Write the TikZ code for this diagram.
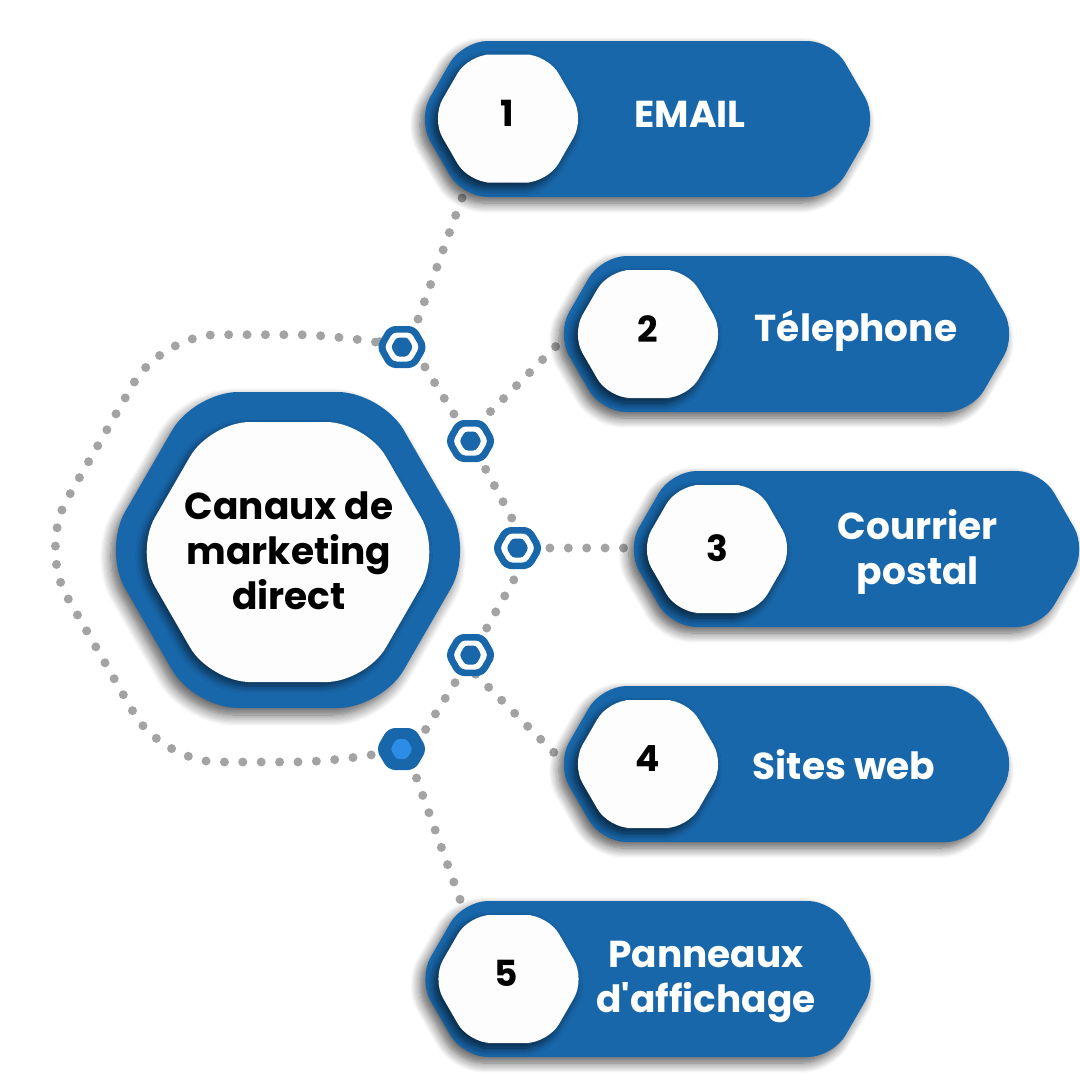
\documentclass[tikz,border=0pt]{standalone}
\usepackage{fontspec}
\setmainfont{Poppins}
\usetikzlibrary{shapes.symbols,backgrounds,shadows.blur}
\definecolor{barblue}{HTML}{1867AB}
\definecolor{dotgrey}{HTML}{A3A3A3}
\definecolor{coreblue}{HTML}{2D8DE6}
\definecolor{hexwhite}{HTML}{FDFDFD}

\begin{document}
\begin{tikzpicture}[x=1pt,y=-1pt,
hex/.style={signal, signal to=west and east, signal pointer angle=120, inner sep=0pt, outer sep=0pt},
main pill/.style={hex, fill=barblue, minimum width=460pt, minimum height=156pt, rounded corners=25pt,
  blur shadow={shadow xshift=-5pt, shadow yshift=-6pt, shadow blur radius=10pt, shadow blur steps=10, shadow opacity=65}},
num hex/.style={hex, fill=hexwhite, minimum width=153pt, minimum height=128pt, rounded corners=22pt,
  blur shadow={shadow xshift=-4pt, shadow yshift=-5pt, shadow blur radius=8pt, shadow blur steps=10, shadow opacity=65}},
ring hex/.style={hex, fill=barblue, minimum width=51pt, minimum height=42pt, rounded corners=7pt},
gap hex/.style={hex, fill=hexwhite, minimum width=35pt, minimum height=29pt, rounded corners=4pt},
core hex/.style={hex, fill=barblue, minimum width=22pt, minimum height=19pt, rounded corners=3pt},
lit hex/.style={hex, fill=coreblue, minimum width=22pt, minimum height=20pt, rounded corners=3pt},
num label/.style={font=\bfseries\fontsize{36}{36}\selectfont, text=black},
pill label/.style={font=\bfseries\fontsize{37.5}{45}\selectfont, text=white, align=center},
hub label/.style={font=\bfseries\fontsize{37.5}{45}\selectfont, text=black, align=center},
dots/.style={draw=dotgrey, line width=9pt, line cap=round, dash pattern=on 0pt off 18.4pt}]
\useasboundingbox (0,0) rectangle (1080,1080);

% centre
\node[hex, fill=barblue, minimum width=370pt, minimum height=316pt, rounded corners=44pt,
  blur shadow={shadow xshift=-5pt, shadow yshift=-7pt, shadow blur radius=11pt, shadow blur steps=10, shadow opacity=65}] (hub) at (288,550) {};
\node[hex, fill=hexwhite, minimum width=306pt, minimum height=260pt, rounded corners=40pt,
  blur shadow={shadow xshift=-4pt, shadow yshift=-4pt, shadow blur radius=7pt, shadow blur steps=10, shadow opacity=55}] (hubw) at (288,552) {};
\node[hub label] (hubt) at (289,551) {Canaux de\\marketing\\direct};

% pill 1
\node[main pill] (p1) at (647.5,119) {};
\node[num hex] (h1) at (508,118.5) {};
\node[num label] (n1) at (507,113) {1};
\node[pill label] (t1) at (690,114) {EMAIL};

% pill 2
\node[main pill] (p2) at (786.5,334) {};
\node[num hex] (h2) at (648,334) {};
\node[num label] (n2) at (648,329) {2};
\node[pill label] (t2) at (856,331) {Télephone};

% pill 3
\node[main pill] (p3) at (856.5,549) {};
\node[num hex] (h3) at (717,549) {};
\node[num label] (n3) at (717,548) {3};
\node[pill label] (t3) at (918,552) {Courrier\\postal};

% pill 4
\node[main pill] (p4) at (786.5,764) {};
\node[num hex] (h4) at (648,764) {};
\node[num label] (n4) at (648,759) {4};
\node[pill label] (t4) at (844,765) {Sites web};

% pill 5
\node[main pill] (p5) at (648,979) {};
\node[num hex] (h5) at (508.5,979) {};
\node[num label] (n5) at (506,973) {5};
\node[pill label] (t5) at (706,982) {Panneaux\\d\textquotesingle affichage};

% junction hexagons
\node[ring hex] (j1) at (402,347) {};
\node[gap hex] (j1g) at (402,347) {};
\node[core hex] (j1c) at (402,347) {};

\node[ring hex] (j2) at (470.5,441) {};
\node[gap hex] (j2g) at (470.5,441) {};
\node[core hex] (j2c) at (470.5,441) {};

\node[ring hex] (j3) at (517.5,548) {};
\node[gap hex] (j3g) at (517.5,548) {};
\node[core hex] (j3c) at (517.5,548) {};

\node[ring hex] (j4) at (470.5,655) {};
\node[gap hex] (j4g) at (470.5,655) {};
\node[core hex] (j4c) at (470.5,655) {};

\node[ring hex] (j5) at (401.5,749) {};
\node[lit hex] (j5c) at (401.5,749) {};

% ends of the dotted lines
\coordinate (e1) at (462,198);
\coordinate (e2) at (555.6,346.6);
\coordinate (e3) at (623.5,548);
\coordinate (e4) at (553.7,752.3);
\coordinate (e5) at (460,899.3);
\coordinate (a1) at (405,355);
\coordinate (a2) at (461,441);
\coordinate (a3) at (415.3,351.3);
\coordinate (a3b) at (465,432);
\coordinate (a4) at (520.4,534.2);
\coordinate (a4b) at (478,455);
\coordinate (a5) at (530,551);
\coordinate (a6) at (486.7,628);
\coordinate (a7) at (455,682.7);
\coordinate (a8) at (414,748);
\coordinate (a9) at (467,665.6);
\coordinate (a10) at (410.8,762);

% outer ring corners
\coordinate (r1) at (161.5,334.7);
\coordinate (r2) at (39,548);
\coordinate (r3) at (162,762);

\begin{pgfonlayer}{background}
\path[dots]
% pills to junctions
(e1) edge (a1)
(e2) edge (a2)
(e3) edge (j3)
(e4) edge (a9)
(e5) edge (a10)

% junction to junction
(a3) edge (a3b)
(a4) edge (a4b)
(a6) edge (a5)
(a7) edge (a8)
;

% outer ring
\draw[dots, rounded corners=56pt] (j1) -- (350,334.7) -- (r1) -- (r2) -- (r3) -- (350,762) -- (j5);
\end{pgfonlayer}

\end{tikzpicture}
\end{document}
